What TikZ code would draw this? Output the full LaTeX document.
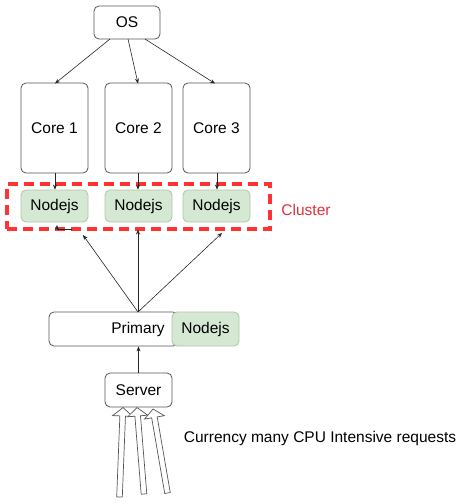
\documentclass[tikz,border=0pt]{standalone}
\usepackage{fontspec}
\setmainfont{Liberation Sans}
\usetikzlibrary{calc,arrows.meta}
\definecolor{nodegreen}{HTML}{D5E8D4}
\definecolor{nodegreenline}{HTML}{A8C99E}
\definecolor{clusterred}{HTML}{FF3333}
\definecolor{clustertext}{HTML}{E0303A}
\definecolor{boxline}{HTML}{555555}
\begin{document}
\begin{tikzpicture}[x=1pt,y=-1pt,
  txt/.style={font=\fontsize{15.5}{18}\selectfont},
  wbox/.style={draw=boxline, line width=0.8pt, rounded corners=5pt, fill=white, inner sep=0pt, txt},
  gbox/.style={draw=nodegreenline, line width=0.8pt, rounded corners=5pt, fill=nodegreen, inner sep=0pt, txt, minimum width=67pt},
  conn/.style={draw=black!85, line width=0.6pt, -{Stealth[length=5pt,width=4pt]}},
  hollow/.style={draw=boxline, line width=0.7pt, fill=white, line join=miter}
]
\useasboundingbox (0,0) rectangle (474,504);
% OS
\node[wbox, minimum width=66pt, minimum height=33pt] (os) at (127,22.5) {OS};
% cores
\node[wbox, minimum width=67pt, minimum height=90pt] (c1) at (54.5,128) {Core 1};
\node[wbox, minimum width=67pt, minimum height=90pt] (c2) at (138.5,128) {Core 2};
\node[wbox, minimum width=67pt, minimum height=90pt] (c3) at (216.5,128) {Core 3};
% nodejs
\node[gbox, minimum height=32pt] (n1) at (54.5,206) {Nodejs};
\node[gbox, minimum height=32pt] (n2) at (138.5,206) {Nodejs};
\node[gbox, minimum height=32pt] (n3) at (216.5,206) {Nodejs};
% cluster
\node[draw=clusterred, line width=3.5pt, dash pattern=on 10pt off 6pt, minimum width=263pt, minimum height=45pt, inner sep=0pt] (cluster) at (138.5,206.5) {};
\node[txt, text=clustertext] (clusterlabel) at (306,210) {Cluster};
% OS arrows
\coordinate (os1) at (110,39);
\coordinate (os2) at (128,39);
\coordinate (os3) at (145,39);
\draw[conn] (os1) -- (55,83.5);
\draw[conn] (os2) -- (138,83.5);
\draw[conn] (os3) -- (215,83.5);
% core to nodejs
\draw[conn] (c1.south -| 55,0) -- (n1.north -| 55,0);
\draw[conn] (c2.south -| 138,0) -- (n2.north -| 138,0);
\draw[conn] (c3.south -| 217,0) -- (n3.north -| 217,0);
% primary
\node[wbox, minimum width=129pt, minimum height=34pt] (prim) at (113.5,329) {};
\node[txt] (primlabel) at (138,329) {Primary};
\node[gbox, minimum height=34pt] (pn) at (205.5,329) {Nodejs};
% primary arrows up
\coordinate (ptop) at (138,312);
\coordinate (e1) at (83,235);
\coordinate (e2) at (138,229.5);
\coordinate (e3) at (222,233);
\draw[conn] (ptop) -- (e1);
\draw[conn] (ptop) -- (e2);
\draw[conn] (ptop) -- (e3);
% small stray arrow
\coordinate (s1) at (72,229);
\draw[conn] (s1) -| (57,225);
% server
\node[wbox, minimum width=67pt, minimum height=34pt] (server) at (138.5,390) {Server};
\draw[conn] (server.north) -- (server.north |- prim.south);
% hollow arrows
\foreach \bx/\by/\tx/\ty in {119.5/497/123/407.5, 144/494/137/407.5, 167.5/493/153/409}{
  \coordinate (b) at (\bx,\by);
  \coordinate (t) at (\tx,\ty);
  \coordinate (h) at ($(t)!8.5pt!(b)$);
  \draw[hollow] ($(b)!2.8pt!90:(t)$) -- ($(h)!2.8pt!-90:(b)$) -- ($(h)!10pt!-90:(b)$) -- (t)
     -- ($(h)!10pt!90:(b)$) -- ($(h)!2.8pt!90:(b)$) -- ($(b)!2.8pt!-90:(t)$) -- cycle;
}
\node[txt] (req) at (320,438) {Currency many CPU Intensive requests};
\end{tikzpicture}
\end{document}
